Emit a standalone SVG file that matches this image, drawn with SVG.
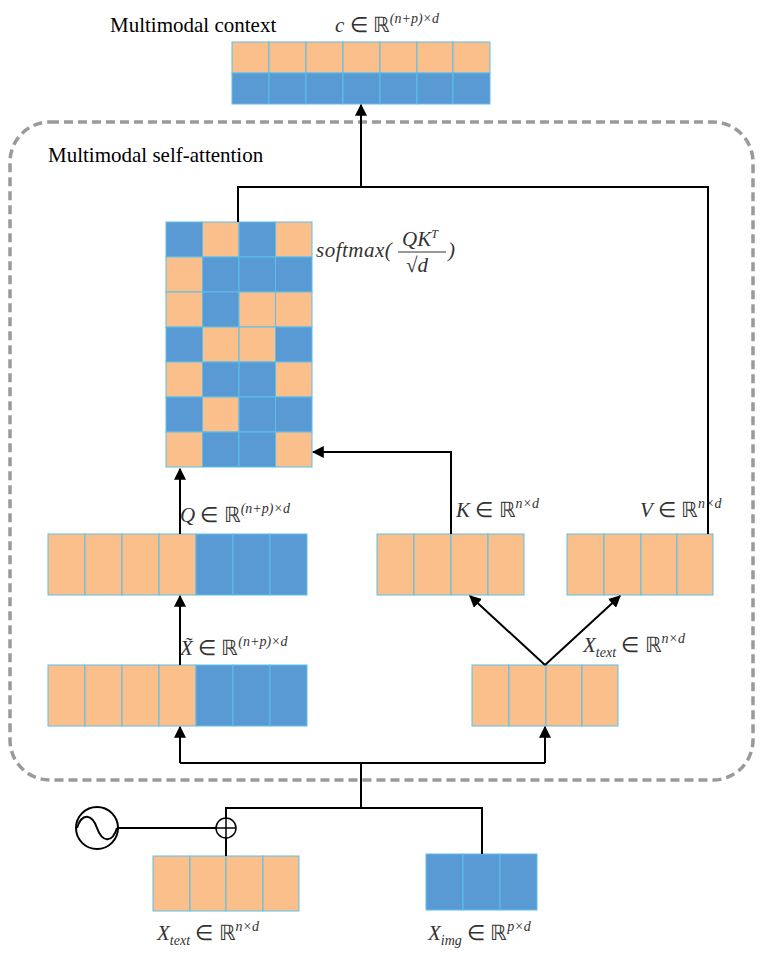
<svg xmlns="http://www.w3.org/2000/svg" width="763" height="957" viewBox="0 0 763 957">
<defs>
<style>
.o{fill:#fbbf8c;stroke:#5bc0e8;stroke-width:1}
.b{fill:#5a9ad4;stroke:#5bc0e8;stroke-width:1}
.ln{fill:none;stroke:#000;stroke-width:2}
.t{font-family:"Liberation Serif",serif;font-size:21px;fill:#000}
.m{font-family:"Liberation Serif",serif;font-size:21px;font-style:italic;fill:#333}
.u{font-style:normal}
</style>
<marker id="a" viewBox="0 0 10 10" refX="9" refY="5" markerWidth="6" markerHeight="6" orient="auto"><path d="M0,0L10,5L0,10z" fill="#000"/></marker>
</defs>
<g id="context">
<text class="t" x="110" y="32">Multimodal context</text>
<text class="m" x="335" y="32">c <tspan class="u">∈ ℝ</tspan><tspan dy="-9" font-size="14">(n+p)×d</tspan></text>
<g>
<rect class="o" x="232" y="42" width="37" height="31"/><rect class="o" x="269" y="42" width="37" height="31"/><rect class="o" x="306" y="42" width="37" height="31"/><rect class="o" x="343" y="42" width="37" height="31"/><rect class="o" x="380" y="42" width="37" height="31"/><rect class="o" x="417" y="42" width="36" height="31"/><rect class="o" x="453" y="42" width="37" height="31"/>
<rect class="b" x="232" y="73" width="37" height="31"/><rect class="b" x="269" y="73" width="37" height="31"/><rect class="b" x="306" y="73" width="37" height="31"/><rect class="b" x="343" y="73" width="37" height="31"/><rect class="b" x="380" y="73" width="37" height="31"/><rect class="b" x="417" y="73" width="36" height="31"/><rect class="b" x="453" y="73" width="37" height="31"/>
</g>
</g>
<g id="attention-box">
<rect x="10" y="122" width="743" height="658" rx="40" fill="none" stroke="#9a9a9a" stroke-width="3.5" stroke-dasharray="9,5"/>
<text class="t" x="48" y="162">Multimodal self-attention</text>
</g>
<g id="softmax">
<g transform="translate(166,222)">
<rect class="b" x="0" y="0" width="36.5" height="35"/><rect class="o" x="36.5" y="0" width="36.5" height="35"/><rect class="b" x="73" y="0" width="36.5" height="35"/><rect class="o" x="109.5" y="0" width="36.5" height="35"/>
<rect class="o" x="0" y="35" width="36.5" height="35"/><rect class="b" x="36.5" y="35" width="36.5" height="35"/><rect class="b" x="73" y="35" width="36.5" height="35"/><rect class="b" x="109.5" y="35" width="36.5" height="35"/>
<rect class="o" x="0" y="70" width="36.5" height="35"/><rect class="b" x="36.5" y="70" width="36.5" height="35"/><rect class="o" x="73" y="70" width="36.5" height="35"/><rect class="o" x="109.5" y="70" width="36.5" height="35"/>
<rect class="b" x="0" y="105" width="36.5" height="35"/><rect class="o" x="36.5" y="105" width="36.5" height="35"/><rect class="o" x="73" y="105" width="36.5" height="35"/><rect class="b" x="109.5" y="105" width="36.5" height="35"/>
<rect class="o" x="0" y="140" width="36.5" height="35"/><rect class="b" x="36.5" y="140" width="36.5" height="35"/><rect class="b" x="73" y="140" width="36.5" height="35"/><rect class="o" x="109.5" y="140" width="36.5" height="35"/>
<rect class="b" x="0" y="175" width="36.5" height="35"/><rect class="o" x="36.5" y="175" width="36.5" height="35"/><rect class="b" x="73" y="175" width="36.5" height="35"/><rect class="b" x="109.5" y="175" width="36.5" height="35"/>
<rect class="o" x="0" y="210" width="36.5" height="35"/><rect class="b" x="36.5" y="210" width="36.5" height="35"/><rect class="b" x="73" y="210" width="36.5" height="35"/><rect class="o" x="109.5" y="210" width="36.5" height="35"/>
</g>
<text class="m" x="316" y="257" font-size="17" letter-spacing="0.5">softmax(</text>
<text class="m" x="402" y="246" font-size="17">QK<tspan dy="-8" font-size="12">T</tspan></text>
<line x1="398" y1="252" x2="446" y2="252" stroke="#333" stroke-width="1"/>
<text class="m" x="406" y="272" font-size="17"><tspan class="u">√</tspan>d</text>
<text class="m" x="448" y="257" font-size="17">)</text>
</g>
<g id="Q">
<rect class="o" x="48" y="534" width="37" height="61"/><rect class="o" x="85" y="534" width="37" height="61"/><rect class="o" x="122" y="534" width="37" height="61"/><rect class="o" x="159" y="534" width="37" height="61"/><rect class="b" x="196" y="534" width="37" height="61"/><rect class="b" x="233" y="534" width="37" height="61"/><rect class="b" x="270" y="534" width="37" height="61"/>
<text class="m" x="180" y="522">Q <tspan class="u">∈ ℝ</tspan><tspan dy="-9" font-size="14">(n+p)×d</tspan></text>
</g>
<g id="K">
<rect class="o" x="377" y="534" width="37" height="61"/><rect class="o" x="414" y="534" width="37" height="61"/><rect class="o" x="451" y="534" width="37" height="61"/><rect class="o" x="488" y="534" width="36" height="61"/>
<text class="m" x="456" y="517">K <tspan class="u">∈ ℝ</tspan><tspan dy="-9" font-size="14">n×d</tspan></text>
</g>
<g id="V">
<rect class="o" x="567" y="534" width="37" height="61"/><rect class="o" x="604" y="534" width="37" height="61"/><rect class="o" x="641" y="534" width="36" height="61"/><rect class="o" x="677" y="534" width="36" height="61"/>
<text class="m" x="640" y="517">V <tspan class="u">∈ ℝ</tspan><tspan dy="-9" font-size="14">n×d</tspan></text>
</g>
<g id="Xtilde">
<rect class="o" x="48" y="665" width="37" height="61"/><rect class="o" x="85" y="665" width="37" height="61"/><rect class="o" x="122" y="665" width="37" height="61"/><rect class="o" x="159" y="665" width="37" height="61"/><rect class="b" x="196" y="665" width="37" height="61"/><rect class="b" x="233" y="665" width="37" height="61"/><rect class="b" x="270" y="665" width="37" height="61"/>
<text class="m" x="180" y="655">X̃ <tspan class="u">∈ ℝ</tspan><tspan dy="-9" font-size="14">(n+p)×d</tspan></text>
</g>
<g id="Xtext-att">
<rect class="o" x="472" y="665" width="37" height="61"/><rect class="o" x="509" y="665" width="37" height="61"/><rect class="o" x="546" y="665" width="36" height="61"/><rect class="o" x="582" y="665" width="36" height="61"/>
<text class="m" x="583" y="652">X<tspan dy="5" font-size="14">text</tspan><tspan dy="-5" class="u"> ∈ ℝ</tspan><tspan dy="-9" font-size="14">n×d</tspan></text>
</g>
<g id="Xtext-in">
<rect class="o" x="153" y="856" width="37" height="55"/><rect class="o" x="190" y="856" width="36" height="55"/><rect class="o" x="226" y="856" width="37" height="55"/><rect class="o" x="263" y="856" width="36" height="55"/>
<text class="m" x="157" y="940">X<tspan dy="5" font-size="14">text</tspan><tspan dy="-5" class="u"> ∈ ℝ</tspan><tspan dy="-9" font-size="14">n×d</tspan></text>
</g>
<g id="Ximg-in">
<rect class="b" x="426" y="854" width="37" height="56"/><rect class="b" x="463" y="854" width="37" height="56"/><rect class="b" x="500" y="854" width="37" height="56"/>
<text class="m" x="428" y="940">X<tspan dy="5" font-size="14">img</tspan><tspan dy="-5" class="u"> ∈ ℝ</tspan><tspan dy="-9" font-size="14">p×d</tspan></text>
</g>
<g id="posenc">
<circle cx="97" cy="828" r="21" fill="#fff" stroke="#000" stroke-width="2"/>
<path d="M77,828 C82,812 92,814 97,828 C102,842 112,844 117,828" fill="none" stroke="#000" stroke-width="2"/>
</g>
<g id="plus">
<circle cx="226" cy="828" r="10" fill="#fff" stroke="#000" stroke-width="1.5"/>
<path d="M216,828H236M226,818V838" stroke="#000" stroke-width="1.5"/>
</g>
<g id="connectors">
<path class="ln" d="M238,222V187H708V534"/>
<path class="ln" marker-end="url(#a)" d="M361,187V105"/>
<path class="ln" marker-end="url(#a)" d="M180,534V469"/>
<path class="ln" marker-end="url(#a)" d="M451,534V452H313"/>
<path class="ln" marker-end="url(#a)" d="M180,665V596"/>
<path class="ln" marker-end="url(#a)" d="M545,665L470,596"/>
<path class="ln" marker-end="url(#a)" d="M545,665L620,596"/>
<path class="ln" d="M180,763H545M361,763V808"/>
<path class="ln" marker-end="url(#a)" d="M180,763V727"/>
<path class="ln" marker-end="url(#a)" d="M545,763V727"/>
<path class="ln" d="M226,818V808H482V854"/>
<path class="ln" d="M226,838V856"/>
<path class="ln" d="M118,828H216"/>
</g>
</svg>
